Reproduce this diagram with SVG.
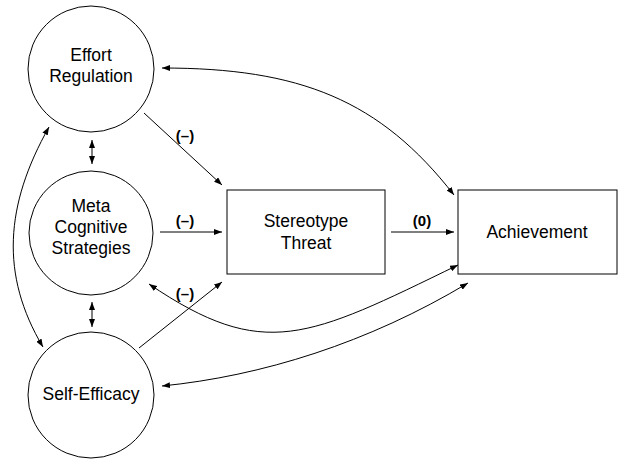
<svg xmlns="http://www.w3.org/2000/svg" width="623" height="464" viewBox="0 0 623 464">
<style>
.n{fill:#fff;stroke:#000;stroke-width:1}
.t{font-family:"Liberation Sans",Arial,sans-serif;font-size:17.5px;fill:#000;text-anchor:middle}
.l{font-family:"Liberation Sans",Arial,sans-serif;font-size:15px;font-weight:bold;fill:#000;text-anchor:middle}
.c{fill:none;stroke:#000;stroke-width:1}
</style>
<defs>
<marker id="ah" viewBox="0 0 8 6" refX="8" refY="3" markerWidth="8" markerHeight="6" markerUnits="userSpaceOnUse" orient="auto-start-reverse">
<path d="M0,0 L8,3 L0,6 z" fill="#000"/>
</marker>
</defs>
<rect width="623" height="464" fill="#fff"/>
<g id="connectors">
<path class="c" d="M144,113 L222,185" marker-end="url(#ah)"/>
<path class="c" d="M160,232 L222,232" marker-end="url(#ah)"/>
<path class="c" d="M139,348 L222,282" marker-end="url(#ah)"/>
<path class="c" d="M391,232 L454,232" marker-end="url(#ah)"/>
<path class="c" d="M162,68 C300,68 380,100 454,195" marker-start="url(#ah)" marker-end="url(#ah)"/>
<path class="c" d="M149,284 C264,362 308,338 458,265" marker-start="url(#ah)" marker-end="url(#ah)"/>
<path class="c" d="M162,386 C262,376 368,343 468,283" marker-start="url(#ah)" marker-end="url(#ah)"/>
<path class="c" d="M49,127 C5,205 0,275 43,347" marker-start="url(#ah)" marker-end="url(#ah)"/>
<path class="c" d="M92,140 L92,164" marker-start="url(#ah)" marker-end="url(#ah)"/>
<path class="c" d="M92,302 L92,327" marker-start="url(#ah)" marker-end="url(#ah)"/>
</g>
<g id="effort">
<circle class="n" cx="91" cy="69" r="63"/>
<text class="t" x="91" y="61">Effort</text>
<text class="t" x="91" y="82">Regulation</text>
</g>
<g id="meta">
<circle class="n" cx="91" cy="233" r="62"/>
<text class="t" x="91" y="212">Meta</text>
<text class="t" x="91" y="233">Cognitive</text>
<text class="t" x="91" y="254">Strategies</text>
</g>
<g id="selfefficacy">
<circle class="n" cx="91" cy="395" r="63"/>
<text class="t" x="91" y="400">Self-Efficacy</text>
</g>
<g id="stereotype">
<rect class="n" x="227" y="190" width="158" height="84"/>
<text class="t" x="306" y="227">Stereotype</text>
<text class="t" x="306" y="249">Threat</text>
</g>
<g id="achievement">
<rect class="n" x="458" y="190" width="159" height="84"/>
<text class="t" x="537" y="238">Achievement</text>
</g>
<g id="labels">
<text class="l" x="185" y="141">(–)</text>
<text class="l" x="185" y="226">(–)</text>
<text class="l" x="185" y="299">(–)</text>
<text class="l" x="422" y="226">(0)</text>
</g>
</svg>
